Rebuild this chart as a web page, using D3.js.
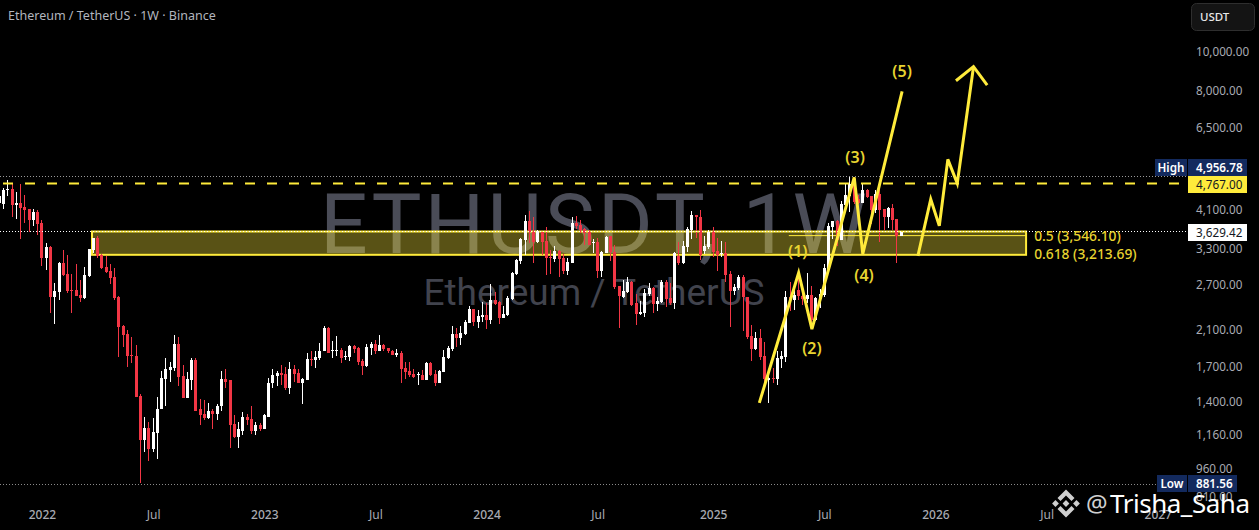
<!DOCTYPE html>
<html><head><meta charset="utf-8">
<script src="https://d3js.org/d3.v7.min.js"></script>
<style>html,body{margin:0;padding:0;background:#000;overflow:hidden}svg{display:block}text{font-family:"Noto Sans",sans-serif}</style>
</head><body><svg id="c" width="1259" height="530"></svg>
<script>
const firstWeek=-1;
const opens=[4259,4236,4581,4607,4212,4259,4165,4119,3873,4050,3808,3131,3330,2517,2588,3044,2862,2617,2617,2545,2503,2830,3274,3502,3184,2977,2911,2815,2517,2139,2045,1818,1808,1437,1123,1201,1073,1168,1336,1589,1672,1690,1934,1616,1421,1572,1768,1336,1299,1270,1328,1299,1359,1589,1572,1228,1142,1187,1284,1263,1181,1221,1194,1284,1546,1616,1644,1634,1511,1681,1644,
1554,1572,1778,1768,1788,1850,2115,1850,1860,1870,1798,1798,1912,1891,1758,1709,1891,1934,1850,1923,1891,1860,1818,1839,1690,1662,1634,1625,1625,1572,1738,1634,1554,1653,1788,1881,2045,2000,2045,2175,2353,2188,2250,2275,2212,2474,2447,2237,2275,2489,2862,3079,3463,3851,3621,3425,
3621,3444,3148,3113,3256,3131,2911,3044,3808,3766,3683,3621,3405,3425,2911,3220,3541,3238,2676,2517,2588,2737,2434,2288,2301,2559,2646,2420,2447,2737,2503,2434,3166,3044,3330,3662,3983,3939,3256,3330,3621,3256,3202,
3220,2862,2603,2646,2815,2517,2023,1881,2000,1808,1572,1598,1581,1778,1798,2517,2474,2617,2531,2489,2545,2212,2489,2545,2943,3724,3851,3463,4212,4430,4738,4356,4259,4581,4430,4096,4480,4119,3939,4142,3895,3541];
const highs=[4581,4633,4845,4764,4530,4738,4455,4119,4119,4096,3873,3405,3349,2721,3061,3274,3184,2862,3027,2768,2977,3293,3502,3541,3202,3166,3027,2960,2531,2151,2092,2012,1923,1461,1284,1242,1277,1429,1662,1788,1748,2034,2012,1719,1653,1788,1788,1413,1405,1389,1343,1374,1662,1681,1572,1292,1242,1314,1306,1359,1242,1235,1299,1598,1681,1662,1719,1700,1748,1719,1681,
1598,1839,1860,1850,1945,2139,2127,1967,2023,1891,1850,1923,1923,1902,1778,1934,1956,1978,2034,1934,1891,1870,1881,1860,1748,1748,1681,1653,1672,1748,1748,1672,1672,1870,1912,2139,2115,2139,2212,2393,2353,2340,2447,2434,2706,2588,2461,2393,2531,2895,3113,3502,3983,4073,3939,3662,
3621,3724,3274,3349,3274,3202,3131,3939,3961,3873,3703,3662,3482,3502,3256,3541,3541,3368,2676,2768,2815,2752,2559,2461,2632,2721,2661,2517,2768,2768,2721,3238,3425,3444,3724,4073,3983,4096,3541,3662,3724,3502,3444,
3425,2911,2706,2846,2846,2517,2151,2068,2104,1956,1672,1690,1860,1860,2603,2737,2691,2815,2691,2878,2676,2517,2632,3027,3808,3851,3873,4307,4738,4929,4929,4455,4738,4607,4430,4581,4738,4119,4165,4236,3895,3629];
const lows=[4028,4119,4430,3939,3895,3482,3808,3621,3745,3561,2993,2927,2301,2163,2474,2830,2574,2301,2531,2447,2489,2815,3220,3131,2943,2878,2706,2474,1798,1902,1700,1738,1429,882,1050,1003,1050,1009,1336,1359,1563,1662,1528,1421,1421,1494,1328,1221,1256,1263,1194,1256,1328,1503,1079,1135,1079,1155,1221,1161,1155,1187,1194,1284,1503,1520,1537,1494,1461,1563,1546,
1381,1572,1709,1690,1768,1850,1839,1788,1808,1738,1768,1758,1839,1719,1625,1700,1818,1829,1850,1860,1839,1818,1798,1554,1581,1607,1598,1537,1572,1572,1616,1520,1554,1653,1778,1850,1902,1923,2034,2175,2139,2115,2188,2104,2163,2406,2163,2237,2262,2474,2846,3027,3184,3405,3044,3405,
3184,2846,2862,3061,2815,2862,2846,3044,3683,3601,3368,3368,3220,2799,2815,3220,3079,2632,2115,2503,2574,2393,2151,2275,2250,2531,2301,2327,2434,2380,2406,2353,3010,3027,3238,3482,3502,3096,3202,3293,3148,2911,3148,
2737,2127,2545,2617,2080,1989,1758,1870,1768,1537,1389,1546,1537,1690,1748,2327,2340,2474,2406,2434,2104,2200,2366,2517,2943,3482,3349,3463,4050,4050,4236,4236,4259,4380,3787,4028,3425,3662,3703,3662,3044,3541];
const closes=[4430,4581,4607,4212,4259,4142,4096,3873,4050,3787,3131,3330,2517,2603,3044,2846,2603,2603,2531,2503,2846,3293,3502,3166,2960,2895,2799,2503,2127,2034,1808,1808,1429,1123,1201,1073,1174,1343,1598,1681,1700,1934,1607,1421,1581,1768,1328,1292,1270,1328,1299,1366,1589,1563,1221,1142,1194,1284,1256,1181,1221,1194,1292,1554,1625,1644,1625,1511,1681,1634,1554,
1581,1778,1768,1798,1860,2115,1839,1870,1870,1788,1808,1912,1881,1748,1709,1902,1934,1850,1923,1881,1850,1818,1839,1681,1653,1625,1607,1634,1572,1738,1625,1554,1662,1798,1891,2045,2000,2057,2188,2353,2188,2262,2275,2212,2474,2420,2237,2288,2503,2878,3096,3482,3851,3621,3425,3642,
3425,3131,3131,3256,3113,2911,3061,3808,3745,3662,3601,3368,3425,2911,3238,3522,3238,2661,2531,2603,2737,2406,2288,2314,2574,2646,2420,2461,2737,2489,2434,3220,3044,3349,3683,3983,3939,3184,3349,3621,3238,3184,3220,
2846,2603,2661,2815,2517,2012,1881,2000,1798,1581,1598,1581,1788,1808,2517,2474,2545,2531,2489,2545,2212,2503,2559,2960,3745,3851,3463,4236,4455,4738,4283,4259,4581,4405,4096,4480,4096,3939,4142,3873,3541,3629];
const tickWeeks=[9,35,61,87,113,139,166,192,218,244,270];
const tickLabels=["2022","Jul","2023","Jul","2024","Jul","2025","Jul","2026","Jul","2027"];
const priceTicks=[10000,8000,6500,4100,3300,2700,2100,1700,1400,1160,960,810];
const highPrice=4956.78, lowPrice=881.56, lastPrice=3629.42, resistance=4767;
const bandTop=3629, bandBottom=3184, fibHalf=3546.10, fibGolden=3213.69;
const bandWeeks=[20.7,239.2], fibStartWeek=183.7, fibLabelWeek=241.1;
const impulseWeeks=[176.8,186,189.1,199,201,210.2];
const impulsePrices=[1386,2878,2098,4919,3202,7974];
const projectionWeeks=[213.9,216.9,218.9,220.9,223.1,226.9];
const projectionPrices=[3166,4349,3745,5442,4756,9156];
const arrowWeeks=[222.8,226.9,230.1];
const arrowPrices=[8463,9156,8260];
const waveNames=["(1)","(2)","(3)","(4)","(5)"];
const waveNameWeeks=[185.8,189.1,199.2,201.3,210.2];
const waveNamePrices=[3238,1881,5515,2830,8937];

const svg=d3.select("#c");
const x=d3.scaleLinear().domain([0,210]).range([3.5,901.25]);
const y=d3.scaleLog().domain([lowPrice,10000]).range([483.5,51]);
const YEL="#ffeb3b", TXT="#e8d430", AX="#a9abb3";
const fy=p=>Math.round(y(p));

// watermark
svg.append("text").attr("x",595).attr("y",253).attr("text-anchor","middle").attr("font-size",84).attr("letter-spacing",3).style("font-family","Roboto").attr("fill","#4a4c57").text("ETHUSDT, 1W");
svg.append("text").attr("x",594).attr("y",305).attr("text-anchor","middle").attr("font-size",37).style("font-family","Roboto").attr("fill","#41434d").text("Ethereum / TetherUS");

// price lines
const dotted=(p,x2,c)=>svg.append("line").attr("x1",0).attr("x2",x2).attr("y1",fy(p)+.5).attr("y2",fy(p)+.5).attr("stroke",c).attr("stroke-dasharray","1 2");
dotted(highPrice,1188,"#9a9a9a");dotted(lowPrice,1157,"#8a8a8a");

// band
svg.append("rect").attr("x",x(bandWeeks[0])).attr("y",y(bandTop)).attr("width",x(bandWeeks[1])-x(bandWeeks[0])).attr("height",y(bandBottom)-y(bandTop))
 .attr("fill","rgba(255,235,59,.35)").attr("stroke",YEL).attr("stroke-width",2);
svg.append("line").attr("x1",x(fibStartWeek)).attr("x2",x(bandWeeks[1])).attr("y1",y(fibHalf)).attr("y2",y(fibHalf)).attr("stroke",YEL).attr("stroke-width",1);

// candles
const idx=d3.range(opens.length);
const cx=i=>Math.floor(x(firstWeek+i));
const g=svg.append("g").attr("shape-rendering","crispEdges");
const col=i=>closes[i]>=opens[i]?"#ffffff":"#f23645";
g.selectAll(".w").data(idx).join("rect").attr("x",cx).attr("width",1)
 .attr("y",i=>fy(highs[i])).attr("height",i=>Math.max(1,fy(lows[i])-fy(highs[i]))).attr("fill",col);
g.selectAll(".b").data(idx).join("rect").attr("x",i=>cx(i)-1).attr("width",3)
 .attr("y",i=>fy(Math.max(opens[i],closes[i]))).attr("height",i=>Math.max(1,Math.abs(fy(opens[i])-fy(closes[i])))).attr("fill",col);

// dashed resistance & current price
svg.append("line").attr("x1",3).attr("x2",1180).attr("y1",fy(resistance)+.5).attr("y2",fy(resistance)+.5).attr("stroke",YEL).attr("stroke-width",2).attr("stroke-dasharray","10 12");
dotted(lastPrice,1188,"#ffffff");

// waves
const line=(w,p)=>d3.line().x((d,i)=>x(w[i])).y((d,i)=>y(p[i]))(w);
[[impulseWeeks,impulsePrices],[projectionWeeks,projectionPrices],[arrowWeeks,arrowPrices]].forEach(a=>
 svg.append("path").attr("d",line(a[0],a[1])).attr("fill","none").attr("stroke",YEL).attr("stroke-width",3).attr("stroke-linejoin","miter"));
waveNames.forEach((n,i)=>svg.append("text").attr("x",x(waveNameWeeks[i])).attr("y",y(waveNamePrices[i])).attr("dy","0.35em").attr("text-anchor","middle").attr("font-size",16).attr("font-weight",600).attr("fill",TXT).text(n));
svg.append("text").attr("x",x(fibLabelWeek)).attr("y",y(fibHalf)).attr("dy","0.4em").attr("font-size",13.8).attr("font-weight",500).attr("fill",TXT).text("0.5 ("+d3.format(",.2f")(fibHalf)+")");
svg.append("text").attr("x",x(fibLabelWeek)).attr("y",y(fibGolden)).attr("dy","0.4em").attr("font-size",13.8).attr("font-weight",500).attr("fill",TXT).text("0.618 ("+d3.format(",.2f")(fibGolden)+")");

// axes
const ax=svg.append("g").attr("transform","translate(0,515)").call(d3.axisBottom(x).tickValues(tickWeeks).tickSize(0).tickPadding(0).tickFormat((d,i)=>tickLabels[i]));
ax.select(".domain").remove();
ax.selectAll("text").attr("font-size",12).attr("font-family","'Noto Sans',sans-serif").attr("fill",AX).attr("font-weight",(d,i)=>i%2?400:500).attr("y",0).attr("dy","0.35em");
const ay=svg.append("g").attr("transform","translate(1196,0)").call(d3.axisRight(y).tickValues(priceTicks).tickSize(0).tickPadding(0).tickFormat(d3.format(",.2f")));
ay.select(".domain").remove();
ay.selectAll("text").attr("font-size",11.7).attr("font-family","'Noto Sans',sans-serif").attr("fill",AX).attr("dy","0.35em");
ay.selectAll(".tick").filter(d=>d===810).attr("transform","translate(0,497)");

// price tags
const tag=(x0,w,yc,h,fill,txt,col,wt,tx)=>{svg.append("rect").attr("x",x0).attr("y",yc-h/2).attr("width",w).attr("height",h).attr("fill",fill);
 svg.append("text").attr("x",tx).attr("y",yc).attr("dy","0.35em").attr("text-anchor",tx===x0+w/2?"middle":"start").attr("font-size",11.7).attr("font-weight",wt).attr("fill",col).text(txt);};
const NAVY="#132a5e";
tag(1155,32,167.5,17,NAVY,"High","#ffffff",600,1171);
tag(1188,59,167.5,17,NAVY,d3.format(",.2f")(highPrice),"#ffffff",600,1196);
tag(1188,59,184.5,17,"#ffeb3b",d3.format(",.2f")(resistance),"#131722",400,1196);
tag(1188,59,232.5,17,"#ffffff",d3.format(",.2f")(lastPrice),"#131722",400,1196);
tag(1157,30,483.5,17,NAVY,"Low","#ffffff",600,1172);
tag(1188,49,483.5,17,NAVY,d3.format(",.2f")(lowPrice),"#ffffff",600,1196);

// currency button & title
svg.append("rect").attr("x",1191.5).attr("y",3.5).attr("width",63).attr("height",27).attr("rx",5).attr("fill","#141414").attr("stroke","#2e2e2e");
svg.append("text").attr("x",1200).attr("y",17).attr("dy","0.35em").attr("font-size",11.5).attr("font-weight",500).attr("fill","#e8e8e8").text("USDT");
svg.append("text").attr("x",8).attr("y",16).attr("dy","0.35em").attr("font-size",12.5).attr("fill","#b2b5be").text("Ethereum / TetherUS · 1W · Binance");

// watermark bottom right
const logo=svg.append("g").attr("transform","translate(1066,503.5)").attr("fill","#cfcfcf");
const chevron="M0,-14L8.5,-5.5L5.5,-2.5L0,-8L-5.5,-2.5L-8.5,-5.5Z";
logo.append("path").attr("d",chevron);
logo.append("path").attr("d",chevron).attr("transform","scale(1,-1)");
[[0,0],[-10.5,0],[10.5,0]].forEach(c=>logo.append("path").attr("d","M0,-3.4L3.4,0L0,3.4L-3.4,0Z").attr("transform",`translate(${c[0]},${c[1]})`));
svg.append("text").attr("x",1086).attr("y",512).attr("font-size",24).attr("fill","#d0d0d0").text("@");
svg.append("text").attr("x",1110).attr("y",513).attr("font-size",26).attr("fill","#ffffff").attr("textLength",140).attr("lengthAdjust","spacing").text("Trisha_Saha");
</script></body></html>
